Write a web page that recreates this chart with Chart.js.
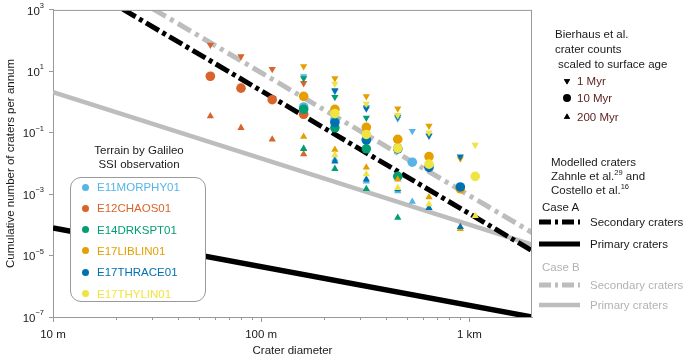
<!DOCTYPE html>
<html><head><meta charset="utf-8">
<script src="https://cdn.jsdelivr.net/npm/chart.js@4.4.0/dist/chart.umd.min.js"></script>
<style>
body{margin:0;background:#fff;}
#wrap{position:relative;width:685px;height:357px;overflow:hidden;font-family:"Liberation Sans",Arial,Helvetica,sans-serif;}
canvas{position:absolute;left:0;top:0;}
.t{position:absolute;white-space:nowrap;font-size:11.5px;line-height:14px;color:#1a1a1a;}
.sup{font-size:7.5px;position:relative;top:-5px;}
#terrainBox{position:absolute;left:70px;top:177px;width:134px;height:123px;border:1.5px solid #9a9a9a;border-radius:11px;background:#fff;}
.dot{position:absolute;width:7px;height:7px;border-radius:50%;}
</style></head>
<body><div id="wrap"><canvas id="c" width="685" height="357"></canvas>
<div class="t" style="left:70px;top:143px;width:138px;text-align:center;line-height:14px;">Terrain by Galileo<br>SSI observation</div>
<div id="terrainBox"></div>
<div class="t" style="left:555px;top:27px;">Bierhaus et al.</div>
<div class="t" style="left:555px;top:42px;">crater counts</div>
<div class="t" style="left:558px;top:57px;">scaled to surface age</div>
<div class="t" id="age0" style="left:577px;top:74px;color:#5b1f1a;"></div>
<div class="t" id="age1" style="left:577px;top:91px;color:#5b1f1a;"></div>
<div class="t" id="age2" style="left:577px;top:110px;color:#5b1f1a;"></div>
<div class="t" style="left:551px;top:155px;">Modelled craters</div>
<div class="t" style="left:551px;top:169px;">Zahnle et al.<span class="sup">29</span> and</div>
<div class="t" style="left:551px;top:183px;">Costello et al.<span class="sup">16</span></div>
<div class="t" style="left:542px;top:200px;">Case A</div>
<div class="t" style="left:590px;top:215px;">Secondary craters</div>
<div class="t" style="left:590px;top:237px;">Primary craters</div>
<div class="t" style="left:542px;top:260px;color:#b3b3b3;">Case B</div>
<div class="t" style="left:590px;top:278px;color:#b3b3b3;">Secondary craters</div>
<div class="t" style="left:590px;top:298px;color:#b3b3b3;">Primary craters</div>
</div>
<script>
// ---- axis ticks ----
const xTickValues = [10, 100, 1000];
const xTickLabels = ['10 m', '100 m', '1 km'];
const xMinorTicks = [20, 30, 40, 50, 60, 70, 80, 90, 200, 300, 400, 500, 600, 700, 800, 900];
const yTickExponents = [3, 1, -1, -3, -5, -7];
const ageLabels = ['1 Myr', '10 Myr', '200 Myr'];

// ---- modelled crater lines (endpoints at 10 m and 2 km) ----
const lineDiameters = [10, 2000];
const caseASecondary = [23200, 1.45e-5];
const caseAPrimary = [8.0e-5, 1.0e-7];
const caseBSecondary = [90400, 5.65e-5];
const caseBPrimary = [2.1, 2.26e-5];

// ---- terrains ----
const terrainNames = ['E11MORPHY01', 'E12CHAOS01', 'E14DRKSPT01', 'E17LIBLIN01', 'E17THRACE01', 'E17THYLIN01'];
const terrainColors = ['#56B4E9', '#D9632B', '#009E73', '#E69F00', '#0072B2', '#F0E442'];

const e11Diam = [160, 226, 320, 453, 532];
const e11Age1 = [6.9, 2.26, 0.69, 0.29, 0.114];
const e11Age10 = [0.69, 0.26, 0.058, 0.030, 0.011];
const e11Age200 = [0.030, 0.0135, 0.0026, 0.00125, 0.00057];

const e12Diam = [57, 80, 113, 160];
const e12Age1 = [72.6, 30.5, 11.9, 4.1];
const e12Age10 = [6.9, 2.83, 1.19, 0.40];
const e12Age200 = [0.346, 0.145, 0.061, 0.020];

const e14Diam = [160, 226, 320, 453];
const e14Age1 = [5.9, 1.45, 0.305, 0.0353];
const e14Age10 = [0.58, 0.145, 0.030, 0.0038];
const e14Age200 = [0.030, 0.0067, 0.00148, 0.000172];

const liblinDiam = [160, 226, 320, 453, 640, 905];
const liblinAge1 = [14.5, 5.94, 1.54, 0.608, 0.168, 0.0145];
const liblinAge10 = [1.53, 0.58, 0.150, 0.061, 0.0168, 0.0015];
const liblinAge200 = [0.074, 0.0283, 0.0074, 0.0030, 0.0008, 0.000074];

const thraceDiam = [226, 320, 453, 640, 905];
const thraceAge1 = [2.38, 0.608, 0.33, 0.080, 0.0168];
const thraceAge10 = [0.215, 0.059, 0.030, 0.0074, 0.00172];
const thraceAge200 = [0.0116, 0.0030, 0.00145, 0.00036, 0.000086];

const thylinDiam = [226, 320, 453, 640, 1067];
const thylinAge1 = [3.89, 0.88, 0.373, 0.102, 0.040];
const thylinAge10 = [0.42, 0.088, 0.0312, 0.0095, 0.0038];
const thylinAge200 = [0.0191, 0.0045, 0.0016, 0.00047, 0.000195];

const terrainData = [
  [e11Diam, e11Age1, e11Age10, e11Age200],
  [e12Diam, e12Age1, e12Age10, e12Age200],
  [e14Diam, e14Age1, e14Age10, e14Age200],
  [liblinDiam, liblinAge1, liblinAge10, liblinAge200],
  [thraceDiam, thraceAge1, thraceAge10, thraceAge200],
  [thylinDiam, thylinAge1, thylinAge10, thylinAge200]
];

const FONT = '"Liberation Sans", Arial, Helvetica, sans-serif';
const BLACK = '#000000';
const GRAY = '#bdbdbd';

// legend HTML
ageLabels.forEach((l, i) => { document.getElementById('age' + i).textContent = l; });
const box = document.getElementById('terrainBox');
terrainNames.forEach((n, i) => {
  const cy = 9 + i * 21.3;
  const d = document.createElement('div');
  d.className = 'dot';
  d.style.left = (10.5) + 'px';
  d.style.top = (cy - 3.5) + 'px';
  d.style.background = terrainColors[i];
  box.appendChild(d);
  const t = document.createElement('div');
  t.className = 't';
  t.style.left = '26px';
  t.style.top = (cy - 7) + 'px';
  t.style.color = terrainColors[i];
  t.textContent = n;
  box.appendChild(t);
});

function lineSet(vals, color, width, dash, order) {
  return {
    data: lineDiameters.map((d, i) => ({ x: d, y: vals[i] })),
    showLine: true, borderColor: color, borderWidth: width, borderDash: dash,
    borderCapStyle: 'butt', pointRadius: 0, fill: false, clip: 0, order: order
  };
}

const datasets = [
  lineSet(caseASecondary, BLACK, 5, [15, 4, 4, 4], 1000),
  lineSet(caseAPrimary, BLACK, 5.5, [], 1001),
  lineSet(caseBSecondary, GRAY, 5, [15, 5, 4, 5], 1002),
  lineSet(caseBPrimary, GRAY, 4.5, [], 1003)
];

terrainData.forEach((td, ti) => {
  const diam = td[0];
  [1, 2, 3].forEach((k, ai) => {
    datasets.push({
      data: diam.map((d, i) => ({ x: d, y: td[k][i] })),
      pointStyle: ai === 1 ? 'circle' : 'triangle',
      rotation: ai === 0 ? 180 : 0,
      pointRadius: ai === 1 ? 4.8 : 4.2,
      backgroundColor: terrainColors[ti],
      borderColor: terrainColors[ti],
      borderWidth: 0,
      showLine: false,
      order: 100 - ti * 3 - ai
    });
  });
});

const decor = {
  id: 'decor',
  afterDraw(chart) {
    const { ctx, chartArea: a, scales: { x, y } } = chart;
    ctx.save();
    ctx.strokeStyle = '#999';
    ctx.lineWidth = 1;
    ctx.beginPath();
    ctx.moveTo(a.left, a.top + 0.5); ctx.lineTo(a.right, a.top + 0.5);
    ctx.moveTo(a.right - 0.5, a.top); ctx.lineTo(a.right - 0.5, a.bottom);
    xMinorTicks.forEach(v => {
      const px = Math.round(x.getPixelForValue(v)) + 0.5;
      ctx.moveTo(px, a.bottom); ctx.lineTo(px, a.bottom + 3);
    });
    ctx.stroke();
    // y tick labels with superscript exponents
    ctx.fillStyle = '#1a1a1a';
    ctx.textBaseline = 'middle';
    yTickExponents.forEach(e => {
      const py = y.getPixelForValue(Math.pow(10, e));
      const expText = e < 0 ? '\u2212' + Math.abs(e) : String(e);
      ctx.font = '7.5px ' + FONT;
      const ew = ctx.measureText(expText).width;
      ctx.textAlign = 'left';
      ctx.fillText(expText, 44 - ew, py - 4);
      ctx.font = '11.5px ' + FONT;
      ctx.textAlign = 'right';
      ctx.fillText('10', 44 - ew, py + 1.5);
    });
    // age markers
    ctx.fillStyle = '#000';
    const mx = 567;
    [[81, 180], [117, 0]].forEach(([my, rot]) => {
      Chart.helpers.drawPoint(ctx, { pointStyle: 'triangle', radius: 3.6, rotation: rot, borderWidth: 0 }, mx, my);
      ctx.fill();
    });
    ctx.beginPath(); ctx.arc(mx, 98, 4, 0, Math.PI * 2); ctx.fill();
    // line samples
    const samples = [[222, BLACK, 5, [12, 4, 3, 4]], [244, BLACK, 5, []], [285, GRAY, 5, [12, 4, 3, 4]], [305, GRAY, 4.5, []]];
    samples.forEach(([sy, col, w, dash]) => {
      ctx.beginPath();
      ctx.strokeStyle = col; ctx.lineWidth = w; ctx.setLineDash(dash); ctx.lineCap = 'butt';
      ctx.moveTo(539, sy); ctx.lineTo(580, sy); ctx.stroke();
    });
    ctx.restore();
  }
};

new Chart(document.getElementById('c'), {
  type: 'scatter',
  data: { datasets },
  options: {
    responsive: false, animation: false, devicePixelRatio: 1,
    layout: { padding: { left: 0, right: 153, top: 7, bottom: 0 } },
    plugins: { legend: { display: false }, tooltip: { enabled: false } },
    scales: {
      x: {
        type: 'logarithmic', min: 10, max: 2000,
        afterFit: s => { s.height = 40; },
        afterBuildTicks: s => { s.ticks = xTickValues.map(v => ({ value: v })); },
        ticks: {
          padding: 6, color: '#1a1a1a', font: { family: FONT, size: 11.5 }, maxRotation: 0, autoSkip: false,
          callback: (v) => { const i = xTickValues.indexOf(v); return i >= 0 ? xTickLabels[i] : ''; }
        },
        grid: { drawOnChartArea: false, tickLength: 5, color: '#999' },
        border: { color: '#999' },
        title: { display: true, text: 'Crater diameter', color: '#1a1a1a', font: { family: FONT, size: 11.5, lineHeight: 1 }, padding: { top: 0, bottom: 0 } }
      },
      y: {
        type: 'logarithmic', min: 1e-7, max: 1e3,
        afterFit: s => { s.width = 53; },
        afterBuildTicks: s => { s.ticks = yTickExponents.map(e => ({ value: Math.pow(10, e) })); },
        ticks: { callback: () => '', font: { family: FONT, size: 11.5 } },
        grid: { drawOnChartArea: false, tickLength: 4, color: '#999' },
        border: { color: '#999' },
        title: { display: true, text: 'Cumulative number of craters per annum', color: '#1a1a1a', font: { family: FONT, size: 11.5, lineHeight: 1.2 }, padding: { top: 4, bottom: 0 } }
      }
    }
  },
  plugins: [decor]
});
</script>
</body></html>
